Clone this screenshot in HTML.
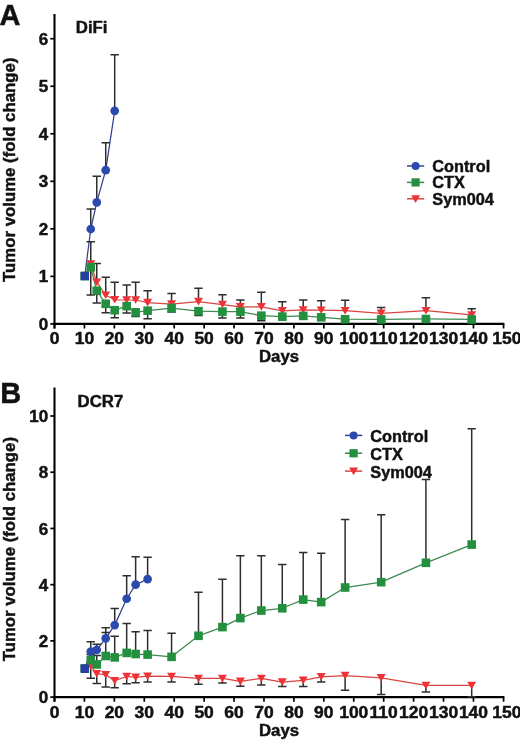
<!DOCTYPE html>
<html><head><meta charset="utf-8"><title>Tumor volume</title>
<style>
html,body{margin:0;padding:0;background:#fff;}
body{width:520px;height:741px;overflow:hidden;}
svg{display:block;}
text{font-family:"Liberation Sans",Arial,Helvetica,sans-serif;font-weight:bold;fill:#111;}
.tk{font-size:15.6px;}
.ax{font-size:16.8px;}
.lg{font-size:16.3px;}
.ti{font-size:16.8px;}
.pl{font-size:29px;}
text{stroke:#111;stroke-width:0.45px;paint-order:stroke;}
</style></head>
<body>
<svg width="520" height="741" viewBox="0 0 520 741">
<rect width="520" height="741" fill="#fff"/>
<path d="M54.5 14V328.5" stroke="#000" stroke-width="2.1" fill="none"/>
<path d="M53.5 323.9H504.38" stroke="#000" stroke-width="2.1" fill="none"/>
<path d="M50.3 323.9H54.5" stroke="#000" stroke-width="1.7"/>
<text transform="translate(48.2 330) scale(1.09 1)" class="tk" text-anchor="end">0</text>
<path d="M50.3 276.37H54.5" stroke="#000" stroke-width="1.7"/>
<text transform="translate(48.2 282.47) scale(1.09 1)" class="tk" text-anchor="end">1</text>
<path d="M50.3 228.84H54.5" stroke="#000" stroke-width="1.7"/>
<text transform="translate(48.2 234.94) scale(1.09 1)" class="tk" text-anchor="end">2</text>
<path d="M50.3 181.31H54.5" stroke="#000" stroke-width="1.7"/>
<text transform="translate(48.2 187.41) scale(1.09 1)" class="tk" text-anchor="end">3</text>
<path d="M50.3 133.78H54.5" stroke="#000" stroke-width="1.7"/>
<text transform="translate(48.2 139.88) scale(1.09 1)" class="tk" text-anchor="end">4</text>
<path d="M50.3 86.25H54.5" stroke="#000" stroke-width="1.7"/>
<text transform="translate(48.2 92.35) scale(1.09 1)" class="tk" text-anchor="end">5</text>
<path d="M50.3 38.72H54.5" stroke="#000" stroke-width="1.7"/>
<text transform="translate(48.2 44.82) scale(1.09 1)" class="tk" text-anchor="end">6</text>
<path d="M54.5 323.9V328.5" stroke="#000" stroke-width="1.7"/>
<text transform="translate(54.5 343.9) scale(1.12 1)" class="tk" text-anchor="middle">0</text>
<path d="M84.42 323.9V328.5" stroke="#000" stroke-width="1.7"/>
<text transform="translate(84.42 343.9) scale(1.12 1)" class="tk" text-anchor="middle">10</text>
<path d="M114.35 323.9V328.5" stroke="#000" stroke-width="1.7"/>
<text transform="translate(114.35 343.9) scale(1.12 1)" class="tk" text-anchor="middle">20</text>
<path d="M144.28 323.9V328.5" stroke="#000" stroke-width="1.7"/>
<text transform="translate(144.28 343.9) scale(1.12 1)" class="tk" text-anchor="middle">30</text>
<path d="M174.2 323.9V328.5" stroke="#000" stroke-width="1.7"/>
<text transform="translate(174.2 343.9) scale(1.12 1)" class="tk" text-anchor="middle">40</text>
<path d="M204.12 323.9V328.5" stroke="#000" stroke-width="1.7"/>
<text transform="translate(204.12 343.9) scale(1.12 1)" class="tk" text-anchor="middle">50</text>
<path d="M234.05 323.9V328.5" stroke="#000" stroke-width="1.7"/>
<text transform="translate(234.05 343.9) scale(1.12 1)" class="tk" text-anchor="middle">60</text>
<path d="M263.98 323.9V328.5" stroke="#000" stroke-width="1.7"/>
<text transform="translate(263.98 343.9) scale(1.12 1)" class="tk" text-anchor="middle">70</text>
<path d="M293.9 323.9V328.5" stroke="#000" stroke-width="1.7"/>
<text transform="translate(293.9 343.9) scale(1.12 1)" class="tk" text-anchor="middle">80</text>
<path d="M323.82 323.9V328.5" stroke="#000" stroke-width="1.7"/>
<text transform="translate(323.82 343.9) scale(1.12 1)" class="tk" text-anchor="middle">90</text>
<path d="M353.75 323.9V328.5" stroke="#000" stroke-width="1.7"/>
<text transform="translate(353.75 343.9) scale(1.12 1)" class="tk" text-anchor="middle">100</text>
<path d="M383.68 323.9V328.5" stroke="#000" stroke-width="1.7"/>
<text transform="translate(383.68 343.9) scale(1.12 1)" class="tk" text-anchor="middle">110</text>
<path d="M413.6 323.9V328.5" stroke="#000" stroke-width="1.7"/>
<text transform="translate(413.6 343.9) scale(1.12 1)" class="tk" text-anchor="middle">120</text>
<path d="M443.53 323.9V328.5" stroke="#000" stroke-width="1.7"/>
<text transform="translate(443.53 343.9) scale(1.12 1)" class="tk" text-anchor="middle">130</text>
<path d="M473.45 323.9V328.5" stroke="#000" stroke-width="1.7"/>
<text transform="translate(473.45 343.9) scale(1.12 1)" class="tk" text-anchor="middle">140</text>
<path d="M503.57 323.9V328.5" stroke="#000" stroke-width="1.7"/>
<text transform="translate(506.88 343.9) scale(1.12 1)" class="tk" text-anchor="middle">150</text>
<polyline points="84.78,276.03 90.76,267.25 96.75,290.75 105.72,303.8 114.7,310.21 126.67,306.17 135.65,312.34 147.62,310.68 171.56,308.07 198.49,311.16 222.43,311.63 240.38,311.63 261.33,315.67 282.28,316.62 303.23,315.9 321.18,317.33 345.12,319.23 381.18,319.47 425.92,318.99 471.71,319.47" fill="none" stroke="#3d8a50" stroke-width="1.25" stroke-linejoin="round"/>
<polyline points="84.78,276.03 90.76,264.16 96.75,282.2 105.72,295.26 114.7,299.76 126.67,300 135.65,300 147.62,302.61 171.56,304.04 198.49,301.66 222.43,304.51 240.38,306.89 261.33,306.89 282.28,310.92 303.23,309.97 321.18,310.21 345.12,310.68 381.18,313.29 425.92,310.68 471.71,314.96" fill="none" stroke="#d8453f" stroke-width="1.25" stroke-linejoin="round"/>
<polyline points="84.78,276.03 90.76,229.03 96.75,202.45 105.72,170.17 114.7,110.83" fill="none" stroke="#34408e" stroke-width="1.25" stroke-linejoin="round"/>
<path d="M90.76 264.16V241.85M86.56 241.85H94.96" stroke="#2e2e2e" stroke-width="1.5" fill="none"/>
<path d="M96.75 282.2V263.5M92.55 263.5H100.95" stroke="#2e2e2e" stroke-width="1.5" fill="none"/>
<path d="M105.72 295.26V277.22M101.52 277.22H109.92" stroke="#2e2e2e" stroke-width="1.5" fill="none"/>
<path d="M114.7 299.76V282.2M110.5 282.2H118.9" stroke="#2e2e2e" stroke-width="1.5" fill="none"/>
<path d="M126.67 300V285.05M122.47 285.05H130.87" stroke="#2e2e2e" stroke-width="1.5" fill="none"/>
<path d="M135.65 300V282.2M131.45 282.2H139.85" stroke="#2e2e2e" stroke-width="1.5" fill="none"/>
<path d="M147.62 302.61V290.75M143.42 290.75H151.82" stroke="#2e2e2e" stroke-width="1.5" fill="none"/>
<path d="M171.56 304.04V293.59M167.36 293.59H175.76" stroke="#2e2e2e" stroke-width="1.5" fill="none"/>
<path d="M198.49 301.66V288.13M194.29 288.13H202.69" stroke="#2e2e2e" stroke-width="1.5" fill="none"/>
<path d="M222.43 304.51V294.78M218.23 294.78H226.63" stroke="#2e2e2e" stroke-width="1.5" fill="none"/>
<path d="M240.38 306.89V300M236.19 300H244.58" stroke="#2e2e2e" stroke-width="1.5" fill="none"/>
<path d="M261.33 306.89V292.17M257.13 292.17H265.53" stroke="#2e2e2e" stroke-width="1.5" fill="none"/>
<path d="M282.28 310.92V301.81M278.08 301.81H286.48" stroke="#2e2e2e" stroke-width="1.5" fill="none"/>
<path d="M303.23 309.97V300M299.03 300H307.43" stroke="#2e2e2e" stroke-width="1.5" fill="none"/>
<path d="M321.18 310.21V300.71M316.98 300.71H325.38" stroke="#2e2e2e" stroke-width="1.5" fill="none"/>
<path d="M345.12 310.68V300.24M340.92 300.24H349.32" stroke="#2e2e2e" stroke-width="1.5" fill="none"/>
<path d="M381.18 313.29V307.5M376.98 307.5H385.38" stroke="#2e2e2e" stroke-width="1.5" fill="none"/>
<path d="M425.92 310.68V297.63M421.72 297.63H430.12" stroke="#2e2e2e" stroke-width="1.5" fill="none"/>
<path d="M471.71 314.96V308.78M467.51 308.78H475.91" stroke="#2e2e2e" stroke-width="1.5" fill="none"/>
<path d="M90.76 267.25V295.02M86.56 295.02H94.96" stroke="#2e2e2e" stroke-width="1.5" fill="none"/>
<path d="M96.75 290.75V303.09M92.55 303.09H100.95" stroke="#2e2e2e" stroke-width="1.5" fill="none"/>
<path d="M105.72 303.8V312.82M101.52 312.82H109.92" stroke="#2e2e2e" stroke-width="1.5" fill="none"/>
<path d="M114.7 310.21V317.8M110.5 317.8H118.9" stroke="#2e2e2e" stroke-width="1.5" fill="none"/>
<path d="M126.67 306.17V313.06M122.47 313.06H130.87" stroke="#2e2e2e" stroke-width="1.5" fill="none"/>
<path d="M135.65 312.34V316.38M131.45 316.38H139.85" stroke="#2e2e2e" stroke-width="1.5" fill="none"/>
<path d="M147.62 310.68V318.75M143.42 318.75H151.82" stroke="#2e2e2e" stroke-width="1.5" fill="none"/>
<path d="M171.56 308.07V312.11M167.36 312.11H175.76" stroke="#2e2e2e" stroke-width="1.5" fill="none"/>
<path d="M198.49 311.16V315.43M194.29 315.43H202.69" stroke="#2e2e2e" stroke-width="1.5" fill="none"/>
<path d="M222.43 311.63V318.04M218.23 318.04H226.63" stroke="#2e2e2e" stroke-width="1.5" fill="none"/>
<path d="M240.38 311.63V318.04M236.19 318.04H244.58" stroke="#2e2e2e" stroke-width="1.5" fill="none"/>
<path d="M261.33 315.67V320.65M257.13 320.65H265.53" stroke="#2e2e2e" stroke-width="1.5" fill="none"/>
<path d="M282.28 316.62V319.7M278.08 319.7H286.48" stroke="#2e2e2e" stroke-width="1.5" fill="none"/>
<path d="M303.23 315.9V319.23M299.03 319.23H307.43" stroke="#2e2e2e" stroke-width="1.5" fill="none"/>
<path d="M321.18 317.33V319.7M316.98 319.7H325.38" stroke="#2e2e2e" stroke-width="1.5" fill="none"/>
<path d="M345.12 319.23V320.65M340.92 320.65H349.32" stroke="#2e2e2e" stroke-width="1.5" fill="none"/>
<path d="M381.18 319.47V321.13M376.98 321.13H385.38" stroke="#2e2e2e" stroke-width="1.5" fill="none"/>
<path d="M425.92 318.99V321.13M421.72 321.13H430.12" stroke="#2e2e2e" stroke-width="1.5" fill="none"/>
<path d="M471.71 319.47V321.13M467.51 321.13H475.91" stroke="#2e2e2e" stroke-width="1.5" fill="none"/>
<path d="M90.76 229.03V209.1M86.56 209.1H94.96" stroke="#2e2e2e" stroke-width="1.5" fill="none"/>
<path d="M96.75 202.45V176.34M92.55 176.34H100.95" stroke="#2e2e2e" stroke-width="1.5" fill="none"/>
<path d="M105.72 170.17V142.64M101.52 142.64H109.92" stroke="#2e2e2e" stroke-width="1.5" fill="none"/>
<path d="M114.7 110.83V54.82M110.5 54.82H118.9" stroke="#2e2e2e" stroke-width="1.5" fill="none"/>
<path d="M80.28 272.23H89.28L84.78 279.83Z" fill="#ee3338"/>
<path d="M86.26 260.36H95.26L90.76 267.96Z" fill="#ee3338"/>
<path d="M92.25 278.4H101.25L96.75 286Z" fill="#ee3338"/>
<path d="M101.22 291.46H110.22L105.72 299.06Z" fill="#ee3338"/>
<path d="M110.2 295.96H119.2L114.7 303.56Z" fill="#ee3338"/>
<path d="M122.17 296.2H131.17L126.67 303.8Z" fill="#ee3338"/>
<path d="M131.15 296.2H140.15L135.65 303.8Z" fill="#ee3338"/>
<path d="M143.12 298.81H152.12L147.62 306.41Z" fill="#ee3338"/>
<path d="M167.06 300.24H176.06L171.56 307.84Z" fill="#ee3338"/>
<path d="M193.99 297.86H202.99L198.49 305.46Z" fill="#ee3338"/>
<path d="M217.93 300.71H226.93L222.43 308.31Z" fill="#ee3338"/>
<path d="M235.88 303.09H244.88L240.38 310.69Z" fill="#ee3338"/>
<path d="M256.83 303.09H265.83L261.33 310.69Z" fill="#ee3338"/>
<path d="M277.78 307.12H286.78L282.28 314.72Z" fill="#ee3338"/>
<path d="M298.73 306.17H307.73L303.23 313.77Z" fill="#ee3338"/>
<path d="M316.68 306.41H325.68L321.18 314.01Z" fill="#ee3338"/>
<path d="M340.62 306.88H349.62L345.12 314.48Z" fill="#ee3338"/>
<path d="M376.68 309.49H385.68L381.18 317.09Z" fill="#ee3338"/>
<path d="M421.42 306.88H430.42L425.92 314.48Z" fill="#ee3338"/>
<path d="M467.21 311.16H476.21L471.71 318.76Z" fill="#ee3338"/>
<rect x="80.48" y="271.73" width="8.6" height="8.6" fill="#22903e"/>
<rect x="86.46" y="262.95" width="8.6" height="8.6" fill="#22903e"/>
<rect x="92.45" y="286.45" width="8.6" height="8.6" fill="#22903e"/>
<rect x="101.42" y="299.5" width="8.6" height="8.6" fill="#22903e"/>
<rect x="110.4" y="305.91" width="8.6" height="8.6" fill="#22903e"/>
<rect x="122.37" y="301.87" width="8.6" height="8.6" fill="#22903e"/>
<rect x="131.35" y="308.04" width="8.6" height="8.6" fill="#22903e"/>
<rect x="143.32" y="306.38" width="8.6" height="8.6" fill="#22903e"/>
<rect x="167.26" y="303.77" width="8.6" height="8.6" fill="#22903e"/>
<rect x="194.19" y="306.86" width="8.6" height="8.6" fill="#22903e"/>
<rect x="218.13" y="307.33" width="8.6" height="8.6" fill="#22903e"/>
<rect x="236.08" y="307.33" width="8.6" height="8.6" fill="#22903e"/>
<rect x="257.03" y="311.37" width="8.6" height="8.6" fill="#22903e"/>
<rect x="277.98" y="312.32" width="8.6" height="8.6" fill="#22903e"/>
<rect x="298.93" y="311.6" width="8.6" height="8.6" fill="#22903e"/>
<rect x="316.88" y="313.03" width="8.6" height="8.6" fill="#22903e"/>
<rect x="340.82" y="314.93" width="8.6" height="8.6" fill="#22903e"/>
<rect x="376.88" y="315.17" width="8.6" height="8.6" fill="#22903e"/>
<rect x="421.62" y="314.69" width="8.6" height="8.6" fill="#22903e"/>
<rect x="467.41" y="315.17" width="8.6" height="8.6" fill="#22903e"/>
<rect x="80.58" y="271.73" width="8.4" height="8.6" rx="1.2" fill="#2540a2"/>
<circle cx="90.76" cy="229.03" r="4.35" fill="#2b4aae"/>
<circle cx="96.75" cy="202.45" r="4.35" fill="#2b4aae"/>
<circle cx="105.72" cy="170.17" r="4.35" fill="#2b4aae"/>
<circle cx="114.7" cy="110.83" r="4.35" fill="#2b4aae"/>
<path d="M54.5 387.5V701.7" stroke="#000" stroke-width="2.1" fill="none"/>
<path d="M53.5 697.1H504.38" stroke="#000" stroke-width="2.1" fill="none"/>
<path d="M50.3 697.1H54.5" stroke="#000" stroke-width="1.7"/>
<text transform="translate(48.2 703.2) scale(1.09 1)" class="tk" text-anchor="end">0</text>
<path d="M50.3 640.88H54.5" stroke="#000" stroke-width="1.7"/>
<text transform="translate(48.2 646.98) scale(1.09 1)" class="tk" text-anchor="end">2</text>
<path d="M50.3 584.66H54.5" stroke="#000" stroke-width="1.7"/>
<text transform="translate(48.2 590.76) scale(1.09 1)" class="tk" text-anchor="end">4</text>
<path d="M50.3 528.44H54.5" stroke="#000" stroke-width="1.7"/>
<text transform="translate(48.2 534.54) scale(1.09 1)" class="tk" text-anchor="end">6</text>
<path d="M50.3 472.22H54.5" stroke="#000" stroke-width="1.7"/>
<text transform="translate(48.2 478.32) scale(1.09 1)" class="tk" text-anchor="end">8</text>
<path d="M50.3 416H54.5" stroke="#000" stroke-width="1.7"/>
<text transform="translate(48.2 422.1) scale(1.09 1)" class="tk" text-anchor="end">10</text>
<path d="M54.5 697.1V701.7" stroke="#000" stroke-width="1.7"/>
<text transform="translate(54.5 718.3) scale(1.12 1)" class="tk" text-anchor="middle">0</text>
<path d="M84.42 697.1V701.7" stroke="#000" stroke-width="1.7"/>
<text transform="translate(84.42 718.3) scale(1.12 1)" class="tk" text-anchor="middle">10</text>
<path d="M114.35 697.1V701.7" stroke="#000" stroke-width="1.7"/>
<text transform="translate(114.35 718.3) scale(1.12 1)" class="tk" text-anchor="middle">20</text>
<path d="M144.28 697.1V701.7" stroke="#000" stroke-width="1.7"/>
<text transform="translate(144.28 718.3) scale(1.12 1)" class="tk" text-anchor="middle">30</text>
<path d="M174.2 697.1V701.7" stroke="#000" stroke-width="1.7"/>
<text transform="translate(174.2 718.3) scale(1.12 1)" class="tk" text-anchor="middle">40</text>
<path d="M204.12 697.1V701.7" stroke="#000" stroke-width="1.7"/>
<text transform="translate(204.12 718.3) scale(1.12 1)" class="tk" text-anchor="middle">50</text>
<path d="M234.05 697.1V701.7" stroke="#000" stroke-width="1.7"/>
<text transform="translate(234.05 718.3) scale(1.12 1)" class="tk" text-anchor="middle">60</text>
<path d="M263.98 697.1V701.7" stroke="#000" stroke-width="1.7"/>
<text transform="translate(263.98 718.3) scale(1.12 1)" class="tk" text-anchor="middle">70</text>
<path d="M293.9 697.1V701.7" stroke="#000" stroke-width="1.7"/>
<text transform="translate(293.9 718.3) scale(1.12 1)" class="tk" text-anchor="middle">80</text>
<path d="M323.82 697.1V701.7" stroke="#000" stroke-width="1.7"/>
<text transform="translate(323.82 718.3) scale(1.12 1)" class="tk" text-anchor="middle">90</text>
<path d="M353.75 697.1V701.7" stroke="#000" stroke-width="1.7"/>
<text transform="translate(353.75 718.3) scale(1.12 1)" class="tk" text-anchor="middle">100</text>
<path d="M383.68 697.1V701.7" stroke="#000" stroke-width="1.7"/>
<text transform="translate(383.68 718.3) scale(1.12 1)" class="tk" text-anchor="middle">110</text>
<path d="M413.6 697.1V701.7" stroke="#000" stroke-width="1.7"/>
<text transform="translate(413.6 718.3) scale(1.12 1)" class="tk" text-anchor="middle">120</text>
<path d="M443.53 697.1V701.7" stroke="#000" stroke-width="1.7"/>
<text transform="translate(443.53 718.3) scale(1.12 1)" class="tk" text-anchor="middle">130</text>
<path d="M473.45 697.1V701.7" stroke="#000" stroke-width="1.7"/>
<text transform="translate(473.45 718.3) scale(1.12 1)" class="tk" text-anchor="middle">140</text>
<path d="M503.57 697.1V701.7" stroke="#000" stroke-width="1.7"/>
<text transform="translate(506.88 718.3) scale(1.12 1)" class="tk" text-anchor="middle">150</text>
<polyline points="84.78,668.63 90.76,659.93 96.75,664.42 105.72,656 114.7,657.4 126.67,652.91 135.65,654.03 147.62,654.6 171.56,656.84 198.49,635.79 222.43,627.09 240.38,618.1 261.33,610.53 282.28,608.28 303.23,599.58 321.18,602.1 345.12,587.51 381.18,582.17 425.92,562.81 471.71,544.56" fill="none" stroke="#3d8a50" stroke-width="1.25" stroke-linejoin="round"/>
<polyline points="84.78,668.63 90.76,666.1 96.75,673.68 105.72,674.81 114.7,680.7 126.67,676.49 135.65,677.33 147.62,676.21 171.56,676.49 198.49,678.45 222.43,678.45 240.38,681.4 261.33,678.45 282.28,682.1 303.23,680.42 321.18,676.77 345.12,675.65 381.18,677.89 425.92,685.47 471.71,685.47" fill="none" stroke="#d8453f" stroke-width="1.25" stroke-linejoin="round"/>
<polyline points="84.78,668.63 90.76,651.51 96.75,649.82 105.72,638.31 114.7,625.12 126.67,598.74 135.65,584.7 147.62,579.09" fill="none" stroke="#34408e" stroke-width="1.25" stroke-linejoin="round"/>
<path d="M90.76 666.1V678.17M86.56 678.17H94.96" stroke="#2e2e2e" stroke-width="1.5" fill="none"/>
<path d="M96.75 673.68V683.51M92.55 683.51H100.95" stroke="#2e2e2e" stroke-width="1.5" fill="none"/>
<path d="M105.72 674.81V686.88M101.52 686.88H109.92" stroke="#2e2e2e" stroke-width="1.5" fill="none"/>
<path d="M114.7 680.7V687.72M110.5 687.72H118.9" stroke="#2e2e2e" stroke-width="1.5" fill="none"/>
<path d="M126.67 676.49V683.79M122.47 683.79H130.87" stroke="#2e2e2e" stroke-width="1.5" fill="none"/>
<path d="M135.65 677.33V682.67M131.45 682.67H139.85" stroke="#2e2e2e" stroke-width="1.5" fill="none"/>
<path d="M147.62 676.21V682.1M143.42 682.1H151.82" stroke="#2e2e2e" stroke-width="1.5" fill="none"/>
<path d="M171.56 676.49V682.1M167.36 682.1H175.76" stroke="#2e2e2e" stroke-width="1.5" fill="none"/>
<path d="M198.49 678.45V684.35M194.29 684.35H202.69" stroke="#2e2e2e" stroke-width="1.5" fill="none"/>
<path d="M222.43 678.45V682.95M218.23 682.95H226.63" stroke="#2e2e2e" stroke-width="1.5" fill="none"/>
<path d="M240.38 681.4V686.31M236.19 686.31H244.58" stroke="#2e2e2e" stroke-width="1.5" fill="none"/>
<path d="M261.33 678.45V684.91M257.13 684.91H265.53" stroke="#2e2e2e" stroke-width="1.5" fill="none"/>
<path d="M282.28 682.1V686.59M278.08 686.59H286.48" stroke="#2e2e2e" stroke-width="1.5" fill="none"/>
<path d="M303.23 680.42V686.59M299.03 686.59H307.43" stroke="#2e2e2e" stroke-width="1.5" fill="none"/>
<path d="M321.18 676.77V682.1M316.98 682.1H325.38" stroke="#2e2e2e" stroke-width="1.5" fill="none"/>
<path d="M345.12 675.65V690.24M340.92 690.24H349.32" stroke="#2e2e2e" stroke-width="1.5" fill="none"/>
<path d="M381.18 677.89V694.45M376.98 694.45H385.38" stroke="#2e2e2e" stroke-width="1.5" fill="none"/>
<path d="M425.92 685.47V691.93M421.72 691.93H430.12" stroke="#2e2e2e" stroke-width="1.5" fill="none"/>
<path d="M471.71 685.47V696.7M467.51 696.7H475.91" stroke="#2e2e2e" stroke-width="1.5" fill="none"/>
<path d="M90.76 659.93V654.6M86.56 654.6H94.96" stroke="#2e2e2e" stroke-width="1.5" fill="none"/>
<path d="M96.75 664.42V655.44M92.55 655.44H100.95" stroke="#2e2e2e" stroke-width="1.5" fill="none"/>
<path d="M105.72 656V632.42M101.52 632.42H109.92" stroke="#2e2e2e" stroke-width="1.5" fill="none"/>
<path d="M114.7 657.4V636.35M110.5 636.35H118.9" stroke="#2e2e2e" stroke-width="1.5" fill="none"/>
<path d="M126.67 652.91V623.44M122.47 623.44H130.87" stroke="#2e2e2e" stroke-width="1.5" fill="none"/>
<path d="M135.65 654.03V631.86M131.45 631.86H139.85" stroke="#2e2e2e" stroke-width="1.5" fill="none"/>
<path d="M147.62 654.6V630.45M143.42 630.45H151.82" stroke="#2e2e2e" stroke-width="1.5" fill="none"/>
<path d="M171.56 656.84V633.26M167.36 633.26H175.76" stroke="#2e2e2e" stroke-width="1.5" fill="none"/>
<path d="M198.49 635.79V592.28M194.29 592.28H202.69" stroke="#2e2e2e" stroke-width="1.5" fill="none"/>
<path d="M222.43 627.09V579.37M218.23 579.37H226.63" stroke="#2e2e2e" stroke-width="1.5" fill="none"/>
<path d="M240.38 618.1V555.79M236.19 555.79H244.58" stroke="#2e2e2e" stroke-width="1.5" fill="none"/>
<path d="M261.33 610.53V555.79M257.13 555.79H265.53" stroke="#2e2e2e" stroke-width="1.5" fill="none"/>
<path d="M282.28 608.28V564.49M278.08 564.49H286.48" stroke="#2e2e2e" stroke-width="1.5" fill="none"/>
<path d="M303.23 599.58V552.42M299.03 552.42H307.43" stroke="#2e2e2e" stroke-width="1.5" fill="none"/>
<path d="M321.18 602.1V553.26M316.98 553.26H325.38" stroke="#2e2e2e" stroke-width="1.5" fill="none"/>
<path d="M345.12 587.51V519.58M340.92 519.58H349.32" stroke="#2e2e2e" stroke-width="1.5" fill="none"/>
<path d="M381.18 582.17V514.81M376.98 514.81H385.38" stroke="#2e2e2e" stroke-width="1.5" fill="none"/>
<path d="M425.92 562.81V479.44M421.72 479.44H430.12" stroke="#2e2e2e" stroke-width="1.5" fill="none"/>
<path d="M471.71 544.56V428.63M467.51 428.63H475.91" stroke="#2e2e2e" stroke-width="1.5" fill="none"/>
<path d="M90.76 651.51V641.68M86.56 641.68H94.96" stroke="#2e2e2e" stroke-width="1.5" fill="none"/>
<path d="M96.75 649.82V644.21M92.55 644.21H100.95" stroke="#2e2e2e" stroke-width="1.5" fill="none"/>
<path d="M105.72 638.31V627.65M101.52 627.65H109.92" stroke="#2e2e2e" stroke-width="1.5" fill="none"/>
<path d="M114.7 625.12V608.56M110.5 608.56H118.9" stroke="#2e2e2e" stroke-width="1.5" fill="none"/>
<path d="M126.67 598.74V575.72M122.47 575.72H130.87" stroke="#2e2e2e" stroke-width="1.5" fill="none"/>
<path d="M135.65 584.7V556.63M131.45 556.63H139.85" stroke="#2e2e2e" stroke-width="1.5" fill="none"/>
<path d="M147.62 579.09V557.19M143.42 557.19H151.82" stroke="#2e2e2e" stroke-width="1.5" fill="none"/>
<path d="M80.28 664.83H89.28L84.78 672.43Z" fill="#ee3338"/>
<path d="M86.26 662.3H95.26L90.76 669.9Z" fill="#ee3338"/>
<path d="M92.25 669.88H101.25L96.75 677.48Z" fill="#ee3338"/>
<path d="M101.22 671.01H110.22L105.72 678.61Z" fill="#ee3338"/>
<path d="M110.2 676.9H119.2L114.7 684.5Z" fill="#ee3338"/>
<path d="M122.17 672.69H131.17L126.67 680.29Z" fill="#ee3338"/>
<path d="M131.15 673.53H140.15L135.65 681.13Z" fill="#ee3338"/>
<path d="M143.12 672.41H152.12L147.62 680.01Z" fill="#ee3338"/>
<path d="M167.06 672.69H176.06L171.56 680.29Z" fill="#ee3338"/>
<path d="M193.99 674.65H202.99L198.49 682.25Z" fill="#ee3338"/>
<path d="M217.93 674.65H226.93L222.43 682.25Z" fill="#ee3338"/>
<path d="M235.88 677.6H244.88L240.38 685.2Z" fill="#ee3338"/>
<path d="M256.83 674.65H265.83L261.33 682.25Z" fill="#ee3338"/>
<path d="M277.78 678.3H286.78L282.28 685.9Z" fill="#ee3338"/>
<path d="M298.73 676.62H307.73L303.23 684.22Z" fill="#ee3338"/>
<path d="M316.68 672.97H325.68L321.18 680.57Z" fill="#ee3338"/>
<path d="M340.62 671.85H349.62L345.12 679.45Z" fill="#ee3338"/>
<path d="M376.68 674.09H385.68L381.18 681.69Z" fill="#ee3338"/>
<path d="M421.42 681.67H430.42L425.92 689.27Z" fill="#ee3338"/>
<path d="M467.21 681.67H476.21L471.71 689.27Z" fill="#ee3338"/>
<rect x="80.48" y="664.33" width="8.6" height="8.6" fill="#22903e"/>
<rect x="86.46" y="655.63" width="8.6" height="8.6" fill="#22903e"/>
<rect x="92.45" y="660.12" width="8.6" height="8.6" fill="#22903e"/>
<rect x="101.42" y="651.7" width="8.6" height="8.6" fill="#22903e"/>
<rect x="110.4" y="653.1" width="8.6" height="8.6" fill="#22903e"/>
<rect x="122.37" y="648.61" width="8.6" height="8.6" fill="#22903e"/>
<rect x="131.35" y="649.73" width="8.6" height="8.6" fill="#22903e"/>
<rect x="143.32" y="650.3" width="8.6" height="8.6" fill="#22903e"/>
<rect x="167.26" y="652.54" width="8.6" height="8.6" fill="#22903e"/>
<rect x="194.19" y="631.49" width="8.6" height="8.6" fill="#22903e"/>
<rect x="218.13" y="622.79" width="8.6" height="8.6" fill="#22903e"/>
<rect x="236.08" y="613.8" width="8.6" height="8.6" fill="#22903e"/>
<rect x="257.03" y="606.23" width="8.6" height="8.6" fill="#22903e"/>
<rect x="277.98" y="603.98" width="8.6" height="8.6" fill="#22903e"/>
<rect x="298.93" y="595.28" width="8.6" height="8.6" fill="#22903e"/>
<rect x="316.88" y="597.8" width="8.6" height="8.6" fill="#22903e"/>
<rect x="340.82" y="583.21" width="8.6" height="8.6" fill="#22903e"/>
<rect x="376.88" y="577.87" width="8.6" height="8.6" fill="#22903e"/>
<rect x="421.62" y="558.51" width="8.6" height="8.6" fill="#22903e"/>
<rect x="467.41" y="540.26" width="8.6" height="8.6" fill="#22903e"/>
<rect x="80.58" y="664.33" width="8.4" height="8.6" rx="1.2" fill="#2540a2"/>
<circle cx="90.76" cy="651.51" r="4.35" fill="#2b4aae"/>
<circle cx="96.75" cy="649.82" r="4.35" fill="#2b4aae"/>
<circle cx="105.72" cy="638.31" r="4.35" fill="#2b4aae"/>
<circle cx="114.7" cy="625.12" r="4.35" fill="#2b4aae"/>
<circle cx="126.67" cy="598.74" r="4.35" fill="#2b4aae"/>
<circle cx="135.65" cy="584.7" r="4.35" fill="#2b4aae"/>
<circle cx="147.62" cy="579.09" r="4.35" fill="#2b4aae"/>
<text class="ax" x="0" y="0" text-anchor="middle" transform="translate(15 169.8) rotate(-90)">Tumor volume (fold change)</text>
<text class="ax" x="0" y="0" text-anchor="middle" transform="translate(15 549.15) rotate(-90)">Tumor volume (fold change)</text>
<text class="ax" x="279" y="361.5" text-anchor="middle">Days</text>
<text class="ax" x="279" y="736.2" text-anchor="middle">Days</text>
<text class="pl" x="-0.5" y="25">A</text>
<text class="pl" x="0.3" y="402.8">B</text>
<text class="ti" x="75.8" y="33.2">DiFi</text>
<text class="ti" x="77.6" y="406.8">DCR7</text>
<path d="M407 166H424.2" stroke="#34408e" stroke-width="1.5"/>
<circle cx="415.6" cy="166" r="4.0" fill="#2b4aae"/>
<text class="lg" x="432.3" y="172">Control</text>
<path d="M407 182.4H424.2" stroke="#3d8a50" stroke-width="1.5"/>
<rect x="411.5" y="178.3" width="8.2" height="8.2" fill="#22903e"/>
<text class="lg" x="432.3" y="188.4">CTX</text>
<path d="M407 198.8H424.2" stroke="#d8453f" stroke-width="1.5"/>
<path d="M411.1 195.2H420.1L415.6 203Z" fill="#ee3338"/>
<text class="lg" x="432.3" y="204.8">Sym004</text>
<path d="M345 435.4H362.2" stroke="#34408e" stroke-width="1.5"/>
<circle cx="353.6" cy="435.4" r="4.0" fill="#2b4aae"/>
<text class="lg" x="370.3" y="441.9">Control</text>
<path d="M345 453.25H362.2" stroke="#3d8a50" stroke-width="1.5"/>
<rect x="349.5" y="449.15" width="8.2" height="8.2" fill="#22903e"/>
<text class="lg" x="370.3" y="459.75">CTX</text>
<path d="M345 471.1H362.2" stroke="#d8453f" stroke-width="1.5"/>
<path d="M349.1 467.5H358.1L353.6 475.3Z" fill="#ee3338"/>
<text class="lg" x="370.3" y="477.6">Sym004</text>
</svg>
</body></html>
